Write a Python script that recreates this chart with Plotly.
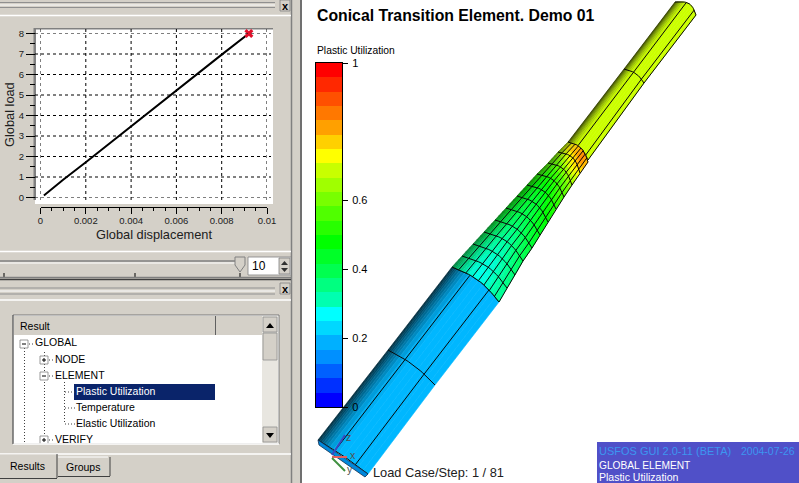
import numpy as np
import plotly.graph_objects as go

W, H = 799, 483

# load / displacement curve
displacement = [0.00015, 0.001, 0.002, 0.003, 0.004, 0.005, 0.006, 0.007, 0.008, 0.0092]
load = [0.1, 0.87, 1.72, 2.6, 3.47, 4.35, 5.22, 6.1, 6.97, 8]
disp_ticks = [0, 0.002, 0.004, 0.006, 0.008, 0.01]
disp_labels = ['0', '0.002', '0.004', '0.006', '0.008', '0.01']
load_ticks = [0, 1, 2, 3, 4, 5, 6, 7, 8]

# colour legend, bottom band first
band_colors = ['#0000ff', '#0030ff', '#0060ff', '#0090ff', '#00b0ff', '#00d8ff', '#00ffff', '#00ffb0',
               '#00ff80', '#00ff50', '#00ff28', '#00ff00', '#28ff00', '#50ff00', '#78ff00', '#a0ff00',
               '#c8ff00', '#ffff00', '#ffd000', '#ffa000', '#ff7800', '#ff5000', '#ff2800', '#ff0000']
legend_ticks = [0, 0.2, 0.4, 0.6, 1]
legend_labels = ['0', '0.2', '0.4', '0.6', '1']

# tube model: ring edges in screen units
low_left_x = [318, 388, 452]
low_left_y = [440, 350, 267]
low_right_x = [368, 435, 499]
low_right_y = [474, 385, 302]
low_bulge = [1, 3, 5]
low_util = 0.195
low_lines = [0.33, 0.74]

cone_left_x = [452, 462, 473, 484, 495, 506, 517, 527, 537, 548, 558, 568]
cone_left_y = [267, 256, 244, 232, 220, 208, 196, 185, 174, 163, 152, 142]
cone_right_x = [499, 507, 515, 523, 532, 540, 548, 556, 564, 572, 580, 588]
cone_right_y = [302, 288, 275, 261, 248, 235, 222, 209, 197, 185, 173, 162]
cone_bulge = [5, 6, 6, 6, 6, 6, 6, 6, 6, 6, 6, 5]
cone_lines = [0.12, 0.25, 0.38, 0.5, 0.62, 0.75, 0.88]
cone_util_u = [0, 0.25, 0.5, 0.75, 1]
cone_util = [
    [.36, .30, .28, .31, .34],
    [.37, .31, .29, .32, .36],
    [.39, .33, .31, .35, .38],
    [.41, .36, .34, .38, .41],
    [.44, .39, .38, .42, .44],
    [.46, .42, .41, .45, .47],
    [.48, .44, .44, .48, .50],
    [.51, .47, .48, .52, .54],
    [.55, .52, .55, .58, .60],
    [.60, .62, .70, .72, .68],
    [.68, .76, .80, .84, .78],
]

top_left_x = [568, 624, 675]
top_left_y = [142, 69, 2]
top_right_x = [588, 644, 696]
top_right_y = [160, 83, 15]
top_bulge = [4, 3, 6]
top_util = 0.69
top_lines = [0.38, 0.82]

# shading round the tube
fill_u = [0, .02, .04, .07, .1, .14, .18, .23, .3, .4, .5, .6, .7, .8, .9, 1]
shade_u = [0, .03, .07, .12, .2, .3, .4]
shade_v = [.2, .32, .45, .58, .75, .92, 1]

# tree items
tree_x = [35, 55, 55, 76, 76, 76, 55]
tree_y = [343.5, 360, 376, 392, 408, 424, 440]
tree_text = ['GLOBAL', 'NODE', 'ELEMENT', 'Plastic Utilization', 'Temperature', 'Elastic Utilization', 'VERIFY']
tree_color = ['black', 'black', 'black', 'white', 'black', 'black', 'black']

GRAY = '#d4d0c8'
FONT = 'Liberation Sans'


def util_rgb(u, k=1.0):
    pos = u * len(band_colors) - 0.5
    rgb = np.array([[int(c[i:i + 2], 16) for i in (1, 3, 5)] for c in band_colors], float)
    grid = np.arange(len(band_colors))
    col = [np.interp(pos, grid, rgb[:, i]) * k for i in range(3)]
    return 'rgb(%d,%d,%d)' % tuple(col)


def ring_point(lx, ly, rx, ry, b, v, u):
    # v runs along the tube in ring numbers, u round it
    i = min(int(v), len(lx) - 2)
    t = v - i
    ax = lx[i] + t * (lx[i + 1] - lx[i])
    ay = ly[i] + t * (ly[i + 1] - ly[i])
    cx = rx[i] + t * (rx[i + 1] - rx[i])
    cy = ry[i] + t * (ry[i + 1] - ry[i])
    bb = b[i] + t * (b[i + 1] - b[i])
    return ax + u * (cx - ax) + bb * 0.6 * np.sin(np.pi * u), ay + u * (cy - ay) - bb * 0.8 * np.sin(np.pi * u)


def add_tube(fig, lx, ly, rx, ry, bulge, util, lines, shade_power=1.0, edge=True, sub=1):
    n = len(lx)
    for i in range((n - 1) * sub):
        v0, v1 = i / sub, (i + 1) / sub
        for a, b in zip(fill_u[:-1], fill_u[1:]):
            mid = (a + b) / 2
            k = np.interp(mid, shade_u, shade_v) ** shade_power
            p0 = ring_point(lx, ly, rx, ry, bulge, v0, a)
            p1 = ring_point(lx, ly, rx, ry, bulge, v0, b)
            p2 = ring_point(lx, ly, rx, ry, bulge, v1, b)
            p3 = ring_point(lx, ly, rx, ry, bulge, v1, a)
            c = util_rgb(util((v0 + v1) / 2, mid), k)
            fig.add_trace(go.Scatter(x=[p0[0], p1[0], p2[0], p3[0], p0[0]],
                                     y=[p0[1], p1[1], p2[1], p3[1], p0[1]],
                                     fill='toself', fillcolor=c, mode='lines',
                                     line=dict(color=c, width=0.6), hoverinfo='skip', xaxis='x', yaxis='y'))
    # mesh lines
    uu = np.linspace(0, 1, 21)
    for i in range(n):
        pts = [ring_point(lx, ly, rx, ry, bulge, i, u) for u in uu]
        fig.add_trace(go.Scatter(x=[p[0] for p in pts], y=[p[1] for p in pts], mode='lines',
                                 line=dict(color='#080808', width=1), hoverinfo='skip', xaxis='x', yaxis='y'))
    for u in lines + ([1.0] if edge else []):
        pts = [ring_point(lx, ly, rx, ry, bulge, i, u) for i in range(n)]
        fig.add_trace(go.Scatter(x=[p[0] for p in pts], y=[p[1] for p in pts], mode='lines',
                                 line=dict(color='#080808', width=1), hoverinfo='skip', xaxis='x', yaxis='y'))


def cone_value(v, u):
    rows = np.arange(len(cone_util))
    cols = [np.interp(v - 0.5, rows, [r[j] for r in cone_util]) for j in range(len(cone_util_u))]
    return np.interp(u, cone_util_u, cols)


fig = go.Figure()
shapes = []
notes = []


def rect(x0, y0, x1, y1, color, layer='below', line=None):
    shapes.append(dict(type='rect', xref='x', yref='y', x0=x0, y0=y0, x1=x1, y1=y1, fillcolor=color,
                       layer=layer, line=dict(width=0.8 if line else 0, color=line or color)))


def seg(x0, y0, x1, y1, color='black', width=1, dash='solid', layer='below'):
    shapes.append(dict(type='line', xref='x', yref='y', x0=x0, y0=y0, x1=x1, y1=y1,
                       layer=layer, line=dict(color=color, width=width, dash=dash)))


def note(x, y, text, size=11, color='black', anchor='left', angle=0, bold=False):
    notes.append(dict(xref='x', yref='y', x=x, y=y, text='<b>%s</b>' % text if bold else text, showarrow=False,
                      xanchor=anchor, yanchor='middle', textangle=angle, borderpad=0,
                      font=dict(family=FONT, size=size, color=color)))


# window panels
rect(0, 0, 300, H, GRAY)
rect(300, 0, 302, H, '#707070')
seg(291.5, 0, 291.5, H, '#808080', 1.5)
seg(0, 2.5, 275, 2.5, '#909090', 1)
seg(0, 5, 275, 5, 'white', 1)
seg(0, 7.5, 275, 7.5, '#909090', 1)
seg(0, 15.5, 291, 15.5, 'white', 1.5)
seg(0, 251.5, 291, 251.5, 'white', 1.5)
# slider row
seg(0, 261, 236, 261, '#808080', 1.5)
seg(0, 263, 236, 263, 'white', 1)
rect(248, 257, 291, 275, 'white', line='#808080')
rect(279, 258, 290, 274, GRAY, line='#808080')
for xt in [4, 135, 240]:
    seg(xt, 273, xt, 277, 'black', 1)
seg(0, 277.5, 291, 277.5, '#808080', 1.5)
seg(0, 279.5, 291, 279.5, '#404040', 1.5)
seg(0, 288, 275, 288, '#909090', 1)
seg(0, 291, 275, 291, 'white', 1)
seg(0, 294, 275, 294, '#909090', 1)
seg(0, 300, 291, 300, 'white', 1.5)
# tree box
rect(13, 315, 279, 444, 'white', line='#606060')
rect(14, 316, 262, 335, GRAY)
seg(215.5, 316, 215.5, 335, '#606060', 1)
rect(262, 316, 278, 443, '#e8e6e0')
rect(263, 317, 277, 332, GRAY, line='#909090')
rect(263, 333, 277, 360, GRAY, line='#909090')
rect(263, 427, 277, 442, GRAY, line='#909090')
rect(74, 384, 215, 400, '#0a246a')
# tree connectors
seg(24.5, 348, 24.5, 442, '#404040', 1, '1px,2px')
seg(44.5, 352, 44.5, 442, '#404040', 1, '1px,2px')
seg(64.5, 382, 64.5, 424, '#404040', 1, '1px,2px')
for yy in [392, 408, 424]:
    seg(65, yy, 75, yy, '#404040', 1, '1px,2px')
for xx, yy in zip([29, 49, 49, 49], [344, 360, 376, 440]):
    seg(xx, yy, xx + 5, yy, '#404040', 1, '1px,2px')
for xb, yb in zip([24, 44, 44, 44], [344, 360, 376, 440]):
    rect(xb - 4, yb - 4, xb + 4, yb + 4, 'white', line='#808080')
    seg(xb - 2, yb, xb + 2, yb, 'black', 1)
seg(44, 358, 44, 362, 'black', 1)
seg(44, 438, 44, 442, 'black', 1)
# tabs
seg(0, 454, 291, 454, 'white', 1.5)
rect(0, 454.5, 56, 478, GRAY)
seg(57, 454, 57, 478, '#404040', 1)
seg(0, 478.5, 57, 478.5, '#404040', 1)
seg(58, 457, 108, 457, 'white', 1)
seg(110, 457, 110, 476, '#404040', 1)
seg(58, 476.5, 110, 476.5, '#404040', 1)
# close buttons
for yb in [0, 283]:
    rect(280, yb, 290, yb + 11, GRAY, line='#808080')
    note(285, yb + 5.5, '<b>x</b>', 11, anchor='center')

# plot background
rect(35, 29, 273, 204, 'white')
rect(34, 28, 273, 29.5, '#808080')
rect(33.5, 28, 36, 200, '#808080')
rect(597, 442, W, H, '#5050c8')

# slider thumb and spinner arrows
shapes.append(dict(type='path', xref='x', yref='y', layer='above', fillcolor=GRAY, line=dict(color='#808080', width=1),
                   path='M 235,257 L 245,257 L 245,265 L 240,272 L 235,265 Z'))
shapes.append(dict(type='path', xref='x', yref='y', layer='above', fillcolor='#303030', line=dict(width=0),
                   path='M 281,265 L 288,265 L 284.5,261 Z M 281,268 L 288,268 L 284.5,272 Z'))
shapes.append(dict(type='path', xref='x', yref='y', layer='above', fillcolor='black', line=dict(width=0),
                   path='M 266,328 L 274,328 L 270,323 Z M 266,433 L 274,433 L 270,438 Z'))

# tube, bottom to top
add_tube(fig, low_left_x, low_left_y, low_right_x, low_right_y, low_bulge, lambda v, u: low_util, low_lines, edge=False)
add_tube(fig, top_left_x, top_left_y, top_right_x, top_right_y, top_bulge, lambda v, u: top_util, top_lines)
add_tube(fig, cone_left_x, cone_left_y, cone_right_x, cone_right_y, cone_bulge, cone_value, cone_lines,
         shade_power=0.5, sub=3)

# end cap
fig.add_trace(go.Scatter(x=[318, 368, 365, 319, 318], y=[440, 474, 477, 445, 440], fill='toself',
                         fillcolor='#0088dc', mode='lines', line=dict(color='#103050', width=0.8),
                         hoverinfo='skip', xaxis='x', yaxis='y'))
# coordinate triad
fig.add_trace(go.Scatter(x=[332, 345], y=[455, 435], mode='lines', line=dict(color='#3848c0', width=2),
                         hoverinfo='skip', xaxis='x', yaxis='y'))
fig.add_trace(go.Scatter(x=[332, 347], y=[457, 457], mode='lines', line=dict(color='#e06060', width=2),
                         hoverinfo='skip', xaxis='x', yaxis='y'))
fig.add_trace(go.Scatter(x=[332, 345], y=[458, 471], mode='lines', line=dict(color='#409040', width=2),
                         hoverinfo='skip', xaxis='x', yaxis='y'))

# tree text as a trace so the last row can be cut by the box edge
fig.add_trace(go.Scatter(x=tree_x, y=tree_y, mode='text', text=tree_text, textposition='middle right',
                         textfont=dict(family=FONT, size=10.5, color=tree_color), hoverinfo='skip',
                         xaxis='x', yaxis='y'))
rect(13, 444, 279, 449, GRAY, layer='above')
seg(13, 444, 279, 444, 'white', 1.5, layer='above')
seg(13, 315, 13, 444, '#606060', 1, layer='above')

# load curve
fig.add_trace(go.Scatter(x=displacement, y=load, mode='lines', line=dict(color='black', width=2),
                         xaxis='x2', yaxis='y2', hoverinfo='skip', cliponaxis=False))
fig.add_trace(go.Scatter(x=displacement[-1:], y=load[-1:], mode='markers',
                         marker=dict(symbol='x', size=8, color='#e0102a', line=dict(width=0)),
                         xaxis='x2', yaxis='y2', hoverinfo='skip', cliponaxis=False))

# colour legend
fig.add_trace(go.Heatmap(z=[[i] for i in range(len(band_colors))], x=[0],
                         y=[(i + 0.5) / len(band_colors) for i in range(len(band_colors))],
                         zmin=-0.5, zmax=len(band_colors) - 0.5, showscale=False, hoverinfo='skip',
                         colorscale=[[v, c] for i, c in enumerate(band_colors)
                                     for v in (i / len(band_colors), (i + 1) / len(band_colors))],
                         xaxis='x3', yaxis='y3'))

# grid of the load plot
for v in disp_ticks:
    shapes.append(dict(type='line', xref='x2', yref='y', x0=v, x1=v, y0=29, y1=200, layer='above',
                       line=dict(color='black', width=1, dash='3px,3px')))
for v in load_ticks:
    shapes.append(dict(type='line', xref='x', yref='y2', x0=35, x1=271, y0=v, y1=v, layer='above',
                       line=dict(color='black', width=1, dash='3px,3px')))

note(315.5, 15, 'Conical Transition Element. Demo 01', 15.8, bold=True)
note(315.5, 50, 'Plastic Utilization', 10.3)
note(371.5, 472, 'Load Case/Step: 1 / 81', 12.8, '#202020')
note(345, 437, 'z', 10.5, '#505050')
note(349, 455, 'x', 10.5, '#505050')
note(346, 469, 'y', 10.5, '#505050')
note(154, 234, 'Global displacement', 12.8, '#202020', 'center')
note(9, 115, 'Global load', 12.8, '#202020', 'center', -90)
note(250.5, 266, '10', 12)
note(19, 326, 'Result', 10.5)
note(8.5, 466, 'Results', 10.5)
note(64.5, 467, 'Groups', 10.5)
note(598, 451, 'USFOS GUI 2.0-11 (BETA)', 11, '#3c96f0')
note(740, 451, '2004-07-26', 10.5, '#3c96f0')
note(598, 465, 'GLOBAL ELEMENT', 10.2, 'white')
note(598, 477.3, 'Plastic Utilization', 10.5, 'white')

fig.update_layout(
    width=W, height=H,
    margin=dict(l=0, r=0, t=0, b=0, pad=0, autoexpand=False),
    paper_bgcolor='white',
    plot_bgcolor='rgba(0,0,0,0)',
    showlegend=False,
    shapes=shapes,
    annotations=notes,
    xaxis=dict(domain=[0, 1], range=[0, W], visible=False, fixedrange=True),
    yaxis=dict(domain=[0, 1], range=[H, 0], visible=False, fixedrange=True),
    xaxis2=dict(domain=[40.5 / W, 267 / W], range=[0, 0.01], anchor='free', position=1 - 207 / H, side='bottom',
                showgrid=False, zeroline=False, showline=True, linecolor='black', linewidth=1,
                tickvals=disp_ticks, ticktext=disp_labels, ticks='outside', ticklen=6, tickcolor='black',
                tickfont=dict(family=FONT, size=9.5, color='#202020'), ticklabelstandoff=-1,
                minor=dict(dtick=0.0005, tick0=0, ticks='outside', ticklen=3, tickcolor='black', showgrid=False),
                fixedrange=True),
    yaxis2=dict(domain=[1 - 197.5 / H, 1 - 33.5 / H], range=[0, 8], anchor='free', position=35 / W, side='left',
                showgrid=False, zeroline=False, showline=False,
                tickvals=load_ticks, ticks='outside', ticklen=9, tickcolor='black',
                tickfont=dict(family=FONT, size=9.5, color='#202020'),
                minor=dict(dtick=0.5, tick0=0, ticks='outside', ticklen=5, tickcolor='black', showgrid=False),
                fixedrange=True),
    xaxis3=dict(domain=[316 / W, 342 / W], range=[-0.5, 0.5], anchor='y3', showticklabels=False, ticks='',
                showgrid=False, zeroline=False, showline=True, mirror=True, linecolor='black', linewidth=1,
                fixedrange=True),
    yaxis3=dict(domain=[1 - 407 / H, 1 - 63 / H], range=[0, 1], anchor='x3', side='right',
                showgrid=False, zeroline=False, showline=True, mirror=True, linecolor='black', linewidth=1,
                tickvals=legend_ticks, ticktext=legend_labels, ticks='outside', ticklen=5, tickcolor='black',
                tickfont=dict(family=FONT, size=11, color='black'), ticklabelstandoff=2, fixedrange=True),
)

# browser default body margin would shift everything by 8px
fig.write_html("out.html", config=dict(displayModeBar=False),
               post_script="document.body.style.margin='0';document.body.style.overflow='hidden';")
